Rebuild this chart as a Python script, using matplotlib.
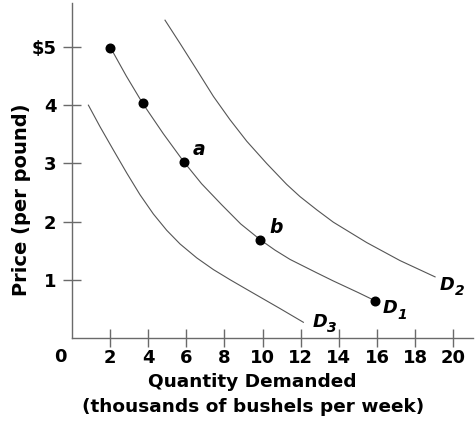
import matplotlib
matplotlib.use("Agg")
import matplotlib.pyplot as plt

plt.rcParams['font.family'] = ['DejaVu Sans']
plt.rcParams['font.weight'] = 'bold'

# 数据
x_ticks = [2, 4, 6, 8, 10, 12, 14, 16, 18, 20]
y_ticks = [1, 2, 3, 4, 5]
y_tick_labels = ['1', '2', '3', '4', '$5']

# 需求曲线 D1
d1_x = [2.0, 2.85, 3.71, 4.79, 5.86, 6.8, 7.85, 8.85, 9.87, 10.65, 11.44, 12.84, 13.71, 15.02, 15.9]
d1_y = [5.0, 4.5, 4.03, 3.51, 3.03, 2.65, 2.29, 1.96, 1.69, 1.51, 1.35, 1.12, 0.98, 0.78, 0.64]
# 曲线上标出的点
dot_x = [1.97, 3.71, 5.86, 9.87, 15.9]
dot_y = [4.99, 4.03, 3.03, 1.69, 0.64]

# D2
d2_x = [4.88, 5.67, 6.54, 7.42, 8.29, 9.17, 10.21, 11.26, 11.96, 12.85, 13.71, 15.46, 17.21, 19.05]
d2_y = [5.46, 5.06, 4.61, 4.15, 3.75, 3.38, 3.00, 2.64, 2.43, 2.20, 1.99, 1.64, 1.33, 1.05]

# D3
d3_x = [0.86, 1.47, 2.17, 2.88, 3.57, 4.27, 4.97, 5.67, 6.55, 7.42, 8.3, 9.17, 10.92, 12.14]
d3_y = [4.00, 3.63, 3.23, 2.83, 2.46, 2.13, 1.85, 1.615, 1.375, 1.175, 1.0, 0.835, 0.505, 0.27]

curve_labels = ['2', '1', '3']
curve_label_x = [19.31, 16.32, 12.6]
curve_label_y = [0.83, 0.43, 0.19]

W, H = 475, 421
fig = plt.figure(figsize=(W / 100, H / 100), dpi=100)
ax = fig.add_axes([72 / W, 83 / H, 401 / W, 335 / H])

line_c = '#555555'
ax.plot(d1_x, d1_y, color=line_c, lw=0.8)
ax.plot(d2_x, d2_y, color=line_c, lw=0.8)
ax.plot(d3_x, d3_y, color=line_c, lw=0.8)
ax.plot(dot_x, dot_y, 'o', color='black', ms=6.2)

ax.set_xlim(0, 21.04)
ax.set_ylim(0, 5.755)

for s in ['top', 'right']:
    ax.spines[s].set_visible(False)
for s in ['left', 'bottom']:
    ax.spines[s].set_color('#6a6a6a')
    ax.spines[s].set_linewidth(1.0)

ax.set_xticks(x_ticks)
ax.set_xticklabels([str(v) for v in x_ticks])
ax.set_yticks(y_ticks)
ax.set_yticklabels(y_tick_labels)
ax.tick_params(axis='both', direction='inout', length=12.5, width=1.0,
               color='#6a6a6a', labelsize=13)
ax.tick_params(axis='x', pad=2)
ax.tick_params(axis='y', pad=5)

# 原点 0
fig.text(60 / W, 1 - 357 / H, '0', ha='center', va='center', fontsize=13,
         fontweight='bold')

# 坐标轴标题
fig.text(252 / W, 1 - 382 / H, 'Quantity Demanded', ha='center', va='center',
         fontsize=13.3, fontweight='bold')
fig.text(253 / W, 1 - 407 / H, '(thousands of bushels per week)', ha='center',
         va='center', fontsize=13.3, fontweight='bold')
fig.text(22 / W, 1 - 200 / H, 'Price (per pound)', rotation=90, ha='center',
         va='center', fontsize=14, fontweight='bold')

# 点标签
ax.text(6.67, 3.23, 'a', fontsize=13.5, fontweight='bold', style='italic',
        ha='center', va='center')
ax.text(10.73, 1.90, 'b', fontsize=13.5, fontweight='bold', style='italic',
        ha='center', va='center')

# 曲线标签 D 加下标
for sub, lx, ly in zip(curve_labels, curve_label_x, curve_label_y):
    ax.text(lx, ly, 'D', fontsize=12.8, fontweight='bold', style='italic',
            ha='left', va='baseline')
    ax.annotate(sub, (lx, ly), xytext=(10.5, -4), textcoords='offset points',
                fontsize=10, fontweight='bold', style='italic',
                ha='left', va='baseline')

fig.savefig('out.png', dpi=100)
